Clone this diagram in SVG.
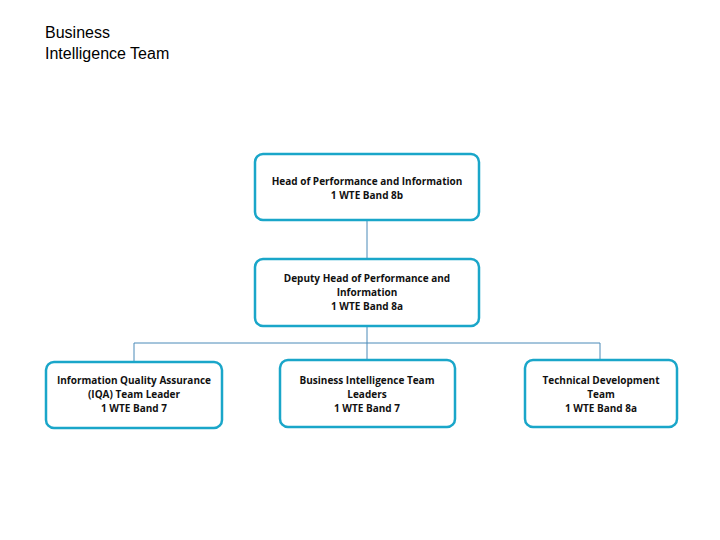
<svg xmlns="http://www.w3.org/2000/svg" width="720" height="540" viewBox="0 0 720 540">
<style>
.box{fill:#fff;stroke:#1aa6c9;stroke-width:2.5}
.t{font-family:"Open Sans","Liberation Sans",sans-serif;font-size:10px;font-weight:bold;fill:#111;text-anchor:middle}
.c{stroke:#4a8ab8;stroke-width:1;fill:none}
.title{font-family:"Liberation Sans",sans-serif;font-size:16px;fill:#000}
</style>
<rect width="720" height="540" fill="#fff"/>
<text class="title" x="45" y="38">Business</text>
<text class="title" x="45" y="59">Intelligence Team</text>
<g id="connectors">
<path class="c" d="M367 220V259M367 326V343M134 343H600M134 343V362M367 343V360M600 343V360"/>
</g>
<g id="n1"><rect class="box" x="255" y="154" width="224" height="66" rx="8"/>
<text class="t" x="367" y="185">Head of Performance and Information</text><text class="t" x="367" y="199">1 WTE Band 8b</text></g>
<g id="n2"><rect class="box" x="255" y="259" width="224" height="67" rx="8"/>
<text class="t" x="367" y="282">Deputy Head of Performance and</text><text class="t" x="367" y="296">Information</text><text class="t" x="367" y="310">1 WTE Band 8a</text></g>
<g id="n3"><rect class="box" x="46" y="362" width="176" height="66" rx="8"/>
<text class="t" x="134" y="384">Information Quality Assurance</text><text class="t" x="134" y="398">(IQA) Team Leader</text><text class="t" x="134" y="412">1 WTE Band 7</text></g>
<g id="n4"><rect class="box" x="280" y="360" width="175" height="67" rx="8"/>
<text class="t" x="367" y="384">Business Intelligence Team</text><text class="t" x="367" y="398">Leaders</text><text class="t" x="367" y="412">1 WTE Band 7</text></g>
<g id="n5"><rect class="box" x="525" y="360" width="152" height="67" rx="8"/>
<text class="t" x="601" y="384">Technical Development</text><text class="t" x="601" y="398">Team</text><text class="t" x="601" y="412">1 WTE Band 8a</text></g>
</svg>
